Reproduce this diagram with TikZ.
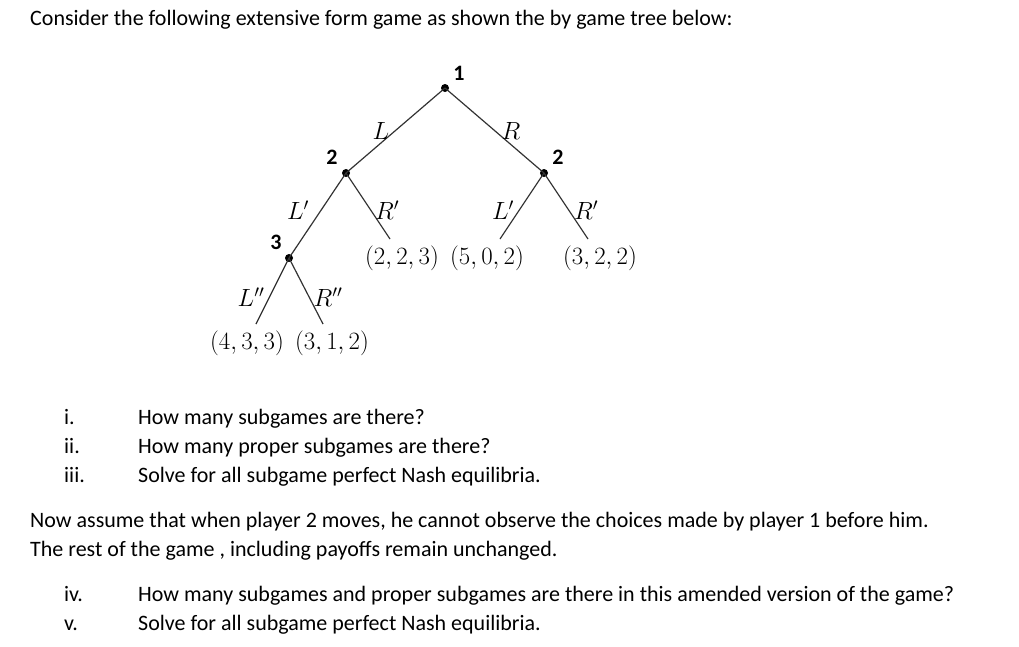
\documentclass[tikz,border=0pt]{standalone}
\usepackage{fontspec}
\setmainfont{Carlito}
\usepackage{amsmath}
\begin{document}
\begin{tikzpicture}[x=1pt,y=-1pt,
  dot/.style={circle,fill=black,inner sep=0pt,minimum size=8pt},
  br/.style={draw=black!80,line width=1.2pt},
  ml/.style={font=\fontsize{23}{26}\selectfont,inner sep=0pt},
  pl/.style={font=\fontsize{22}{24}\selectfont,inner sep=0pt},
  txt/.style={anchor=base west,font=\fontsize{22}{26}\selectfont,inner sep=0pt}]
\useasboundingbox (0,0) rectangle (1019,646);
\node[txt] (t0) at (30,25) {Consider the following extensive form game as shown the by game tree below:};
% tree
\node[dot] (r) at (445,88) {};
\node[dot] (a) at (346,173) {};
\node[dot] (b) at (544,173) {};
\node[dot] (c) at (289,258) {};
\coordinate (e1) at (390,239);
\coordinate (e2) at (500,239);
\coordinate (e3) at (588,239);
\coordinate (e4) at (256,324);
\coordinate (e5) at (323,324);
\draw[br] (r.center)--(a.center) (r.center)--(b.center) (a.center)--(c.center) (a.center)--(e1)
  (b.center)--(e2) (b.center)--(e3) (c.center)--(e4) (c.center)--(e5);
\node[pl] (n1) at (459,73) {$\mathbf{1}$};
\node[pl] (n2) at (332,157) {$\mathbf{2}$};
\node[pl] (n2b) at (558,157) {$\mathbf{2}$};
\node[pl] (n3) at (276,242) {$\mathbf{3}$};
\node[ml] (lL) at (381,131) {$L$};
\node[ml] (lR) at (511,131) {$R$};
\node[ml] (l1) at (298,210) {$L'$};
\node[ml] (l2) at (387,210) {$R'$};
\node[ml] (l3) at (503,210) {$L'$};
\node[ml] (l4) at (586,210) {$R'$};
\node[ml] (l5) at (251,297) {$L''$};
\node[ml] (l6) at (328,297) {$R''$};
\node[ml] (p1) at (402,258) {$(2,2,3)$};
\node[ml] (p2) at (487,258) {$(5,0,2)$};
\node[ml] (p3) at (600,258) {$(3,2,2)$};
\node[ml] (p4) at (247,343) {$(4,3,3)$};
\node[ml] (p5) at (332,343) {$(3,1,2)$};
% questions
\node[txt] (q1) at (64,424) {i.};
\node[txt] (q1t) at (138,424) {How many subgames are there?};
\node[txt] (q2) at (64,453) {ii.};
\node[txt] (q2t) at (138,453) {How many proper subgames are there?};
\node[txt] (q3) at (64,482) {iii.};
\node[txt] (q3t) at (138,482) {Solve for all subgame perfect Nash equilibria.};
\node[txt] (p6) at (30,527) {Now assume that when player 2 moves, he cannot observe the choices made by player 1 before him.};
\node[txt] (p7) at (30,556) {The rest of the game , including payoffs remain unchanged.};
\node[txt] (q4) at (64,601) {iv.};
\node[txt] (q4t) at (138,601) {How many subgames and proper subgames are there in this amended version of the game?};
\node[txt] (q5) at (64,630) {v.};
\node[txt] (q5t) at (138,630) {Solve for all subgame perfect Nash equilibria.};
\end{tikzpicture}
\end{document}
